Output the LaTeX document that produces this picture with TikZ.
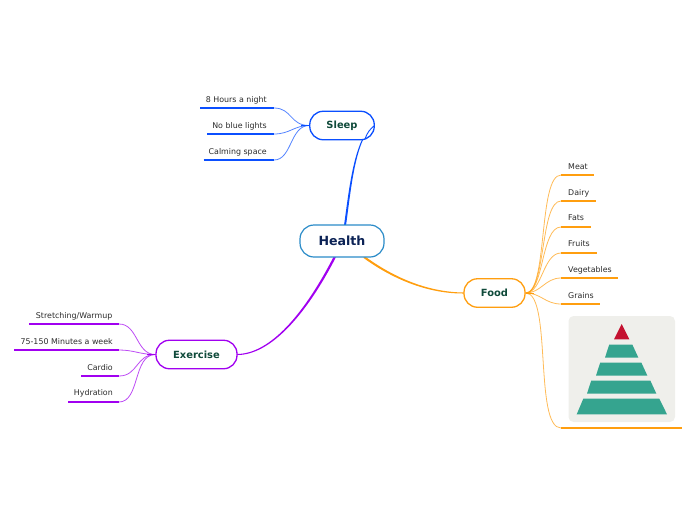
\documentclass[tikz,border=0pt]{standalone}
\usepackage{fontspec}
\setmainfont{DejaVu Sans}
\definecolor{cblue}{HTML}{0B4FFF}
\definecolor{corange}{HTML}{FF9E0F}
\definecolor{cpurple}{HTML}{A100F0}
\definecolor{chealth}{HTML}{2A8BC8}
\definecolor{ctitle}{HTML}{0B2255}
\definecolor{csub}{HTML}{0F4A3A}
\definecolor{cleaf}{HTML}{2B2B2B}
\definecolor{cteal}{HTML}{35A48F}
\definecolor{cred}{HTML}{C41230}
\definecolor{cpanel}{HTML}{EFEFEB}
\tikzset{
  root/.style={draw=chealth,line width=1.2pt,fill=white,rounded corners=14pt,minimum width=84pt,minimum height=32pt,inner sep=0pt,text=ctitle,font=\fontsize{12.6pt}{14pt}\selectfont\bfseries},
  topic/.style={line width=1.3pt,fill=white,rounded corners=13.5pt,minimum height=28.5pt,inner sep=0pt,text=csub,font=\fontsize{9.9pt}{11pt}\selectfont\bfseries},
  leafl/.style={text=cleaf,inner sep=0pt,font=\fontsize{7.9pt}{9pt}\selectfont,anchor=base west},
  leafr/.style={text=cleaf,inner sep=0pt,font=\fontsize{7.9pt}{9pt}\selectfont,anchor=base east},
  leafrule/.style={line width=2pt},
  twig/.style={line width=0.8pt,opacity=0.7},
}
\begin{document}
\begin{tikzpicture}[x=1pt,y=-1pt]
\useasboundingbox (0,0) rectangle (696,520);

\coordinate (hn1) at (344,225.5);
\coordinate (hn2) at (346,225.5);
\coordinate (hsw1) at (334,256);
\coordinate (hsw2) at (336,257);
\coordinate (hse1) at (363.3,257.8);
\coordinate (hse2) at (364.7,256.2);
\coordinate (se1) at (374.5,125);
\coordinate (se2) at (374.5,126);
\coordinate (ew1) at (237,354);
\coordinate (ew2) at (237,355);
\coordinate (fw1) at (464,293.5);
\coordinate (fw2) at (464,292.5);

% main branches, tapering away from the root
\fill[cblue] (hn1) .. controls (349,190) and (354.5,134.5) .. (se1) -- (se2) .. controls (355.5,135.5) and (351,190) .. (hn2) -- cycle;
\fill[cpurple] (hsw1) .. controls (304,314.5) and (270,353.7) .. (ew1) -- (ew2) .. controls (270,355.3) and (306,315.5) .. (hsw2) -- cycle;
\fill[corange] (hse1) .. controls (395,280.8) and (430,293.8) .. (fw1) -- (fw2) .. controls (430,292.2) and (396,279.2) .. (hse2) -- cycle;

\coordinate (s1a) at (200,108); \coordinate (s1b) at (274,108);
\coordinate (s2a) at (207,134); \coordinate (s2b) at (274,134);
\coordinate (s3a) at (203.5,160); \coordinate (s3b) at (274,160);
\coordinate (f1a) at (561,175); \coordinate (f1b) at (594,175);
\coordinate (f2a) at (561,201); \coordinate (f2b) at (596,201);
\coordinate (f3a) at (561,227); \coordinate (f3b) at (591,227);
\coordinate (f4a) at (561,253); \coordinate (f4b) at (597,253);
\coordinate (f5a) at (561,278); \coordinate (f5b) at (617.5,278);
\coordinate (f6a) at (561,304); \coordinate (f6b) at (600,304);
\coordinate (f7a) at (561,428); \coordinate (f7b) at (682,428);
\coordinate (e1a) at (29,324); \coordinate (e1b) at (119,324);
\coordinate (e2a) at (14,350); \coordinate (e2b) at (119,350);
\coordinate (e3a) at (81,376); \coordinate (e3b) at (119,376);
\coordinate (e4a) at (68,402); \coordinate (e4b) at (119,402);

\node[root] (health) at (342,241) {\raisebox{-0.8pt}{Health}};
\node[topic,draw=cblue,minimum width=64.5pt] (sleep) at (342,125.5) {\raisebox{-0.4pt}{Sleep}};
\node[topic,draw=corange,minimum width=61pt] (food) at (494.5,293) {\raisebox{-0.4pt}{Food}};
\node[topic,draw=cpurple,minimum width=81pt] (exercise) at (196.5,354.5) {\raisebox{-0.4pt}{Exercise}};

% the blue branch continues over the Sleep node
\draw[cblue,line width=0.9pt] (365,139) .. controls (367,133) and (370,129) .. (374.5,125.5);

% Sleep twigs
\draw[twig,cblue] (sleep.west) .. controls (290,125.5) and (292,108) .. (s1b);
\draw[twig,cblue] (sleep.west) .. controls (294,125.5) and (290,134) .. (s2b);
\draw[twig,cblue] (sleep.west) .. controls (290,125.5) and (292,160) .. (s3b);
\draw[cblue,line width=1pt] (sleep.west) -- ++(-8,0);

% Food twigs
\draw[twig,corange] (food.east) .. controls (548,293) and (538,175) .. (f1a);
\draw[twig,corange] (food.east) .. controls (546,293) and (540,201) .. (f2a);
\draw[twig,corange] (food.east) .. controls (544,293) and (541,227) .. (f3a);
\draw[twig,corange] (food.east) .. controls (542,293) and (543,253) .. (f4a);
\draw[twig,corange] (food.east) .. controls (541,293) and (545,278) .. (f5a);
\draw[twig,corange] (food.east) .. controls (541,293) and (545,304) .. (f6a);
\draw[twig,corange] (food.east) .. controls (552,293) and (534,428) .. (f7a);
\draw[corange,line width=1pt] (food.east) -- ++(8,0);

% Exercise twigs
\draw[twig,cpurple] (exercise.west) .. controls (136,354.5) and (138,324) .. (e1b);
\draw[twig,cpurple] (exercise.west) .. controls (140,354.5) and (134,350) .. (e2b);
\draw[twig,cpurple] (exercise.west) .. controls (136,354.5) and (138,376) .. (e3b);
\draw[twig,cpurple] (exercise.west) .. controls (133,354.5) and (140,402) .. (e4b);
\draw[cpurple,line width=1pt] (exercise.west) -- ++(-8,0);

% rules
\draw[leafrule,cblue] (s1a) -- (s1b);
\draw[leafrule,cblue] (s2a) -- (s2b);
\draw[leafrule,cblue] (s3a) -- (s3b);
\draw[leafrule,corange] (f1a) -- (f1b);
\draw[leafrule,corange] (f2a) -- (f2b);
\draw[leafrule,corange] (f3a) -- (f3b);
\draw[leafrule,corange] (f4a) -- (f4b);
\draw[leafrule,corange] (f5a) -- (f5b);
\draw[leafrule,corange] (f6a) -- (f6b);
\draw[leafrule,corange] (f7a) -- (f7b);
\draw[leafrule,cpurple] (e1a) -- (e1b);
\draw[leafrule,cpurple] (e2a) -- (e2b);
\draw[leafrule,cpurple] (e3a) -- (e3b);
\draw[leafrule,cpurple] (e4a) -- (e4b);

% labels
\node[leafr] (s1t) at (267,102.5) {8 Hours a night};
\node[leafr] (s2t) at (267,128.5) {No blue lights};
\node[leafr] (s3t) at (267,154.5) {Calming space};
\node[leafl] (f1t) at (568,169) {Meat};
\node[leafl] (f2t) at (568,195) {Dairy};
\node[leafl] (f3t) at (568,220) {Fats};
\node[leafl] (f4t) at (568,246) {Fruits};
\node[leafl] (f5t) at (568,272) {Vegetables};
\node[leafl] (f6t) at (568,298) {Grains};
\node[leafr] (e1t) at (112.5,318) {Stretching/Warmup};
\node[leafr] (e2t) at (113,344) {75-150 Minutes a week};
\node[leafr] (e3t) at (113,370.5) {Cardio};
\node[leafr] (e4t) at (113,395) {Hydration};

% food pyramid
\fill[cpanel,rounded corners=5pt] (568.5,316) rectangle (675,422);
\fill[cred] (621.7,324) -- (629.3,339.3) -- (614,339.3) -- cycle;
\fill[cteal] (609.3,344.5) -- (632.3,344.5) -- (638.3,357.5) -- (605,357.5) -- cycle;
\fill[cteal] (600.3,362.5) -- (641.3,362.5) -- (647.3,375.5) -- (596,375.5) -- cycle;
\fill[cteal] (591.3,380.5) -- (650.3,380.5) -- (656.3,393.5) -- (587,393.5) -- cycle;
\fill[cteal] (583.3,398.7) -- (659.3,398.7) -- (667,414.3) -- (576.7,414.3) -- cycle;
\end{tikzpicture}
\end{document}
